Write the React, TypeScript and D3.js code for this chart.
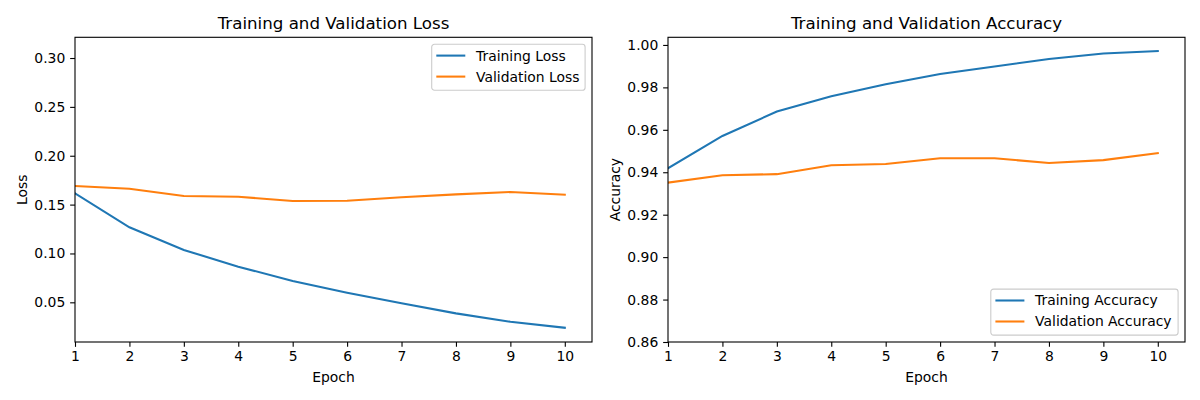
import React, { useEffect, useRef } from "react";
import * as d3 from "d3";

// values
const epochs = [1, 2, 3, 4, 5, 6, 7, 8, 9, 10];
const trainLoss = [0.1616, 0.1268, 0.1036, 0.0865, 0.0719, 0.0599, 0.049, 0.0387, 0.0301, 0.024];
const valLoss = [0.169, 0.1663, 0.1588, 0.1581, 0.1537, 0.154, 0.1575, 0.1605, 0.1629, 0.1601];
const trainAcc = [0.9419, 0.9571, 0.9686, 0.9758, 0.9815, 0.9863, 0.9898, 0.9934, 0.996, 0.9971];
const valAcc = [0.9351, 0.9386, 0.9391, 0.9433, 0.9439, 0.9466, 0.9466, 0.9444, 0.9457, 0.949];
const lossTicks = [0.05, 0.1, 0.15, 0.2, 0.25, 0.3];
const accTicks = [0.86, 0.88, 0.9, 0.92, 0.94, 0.96, 0.98, 1.0];

const BLUE = "#1f77b4";
const ORANGE = "#ff7f0e";
const FONT = "DejaVu Sans, sans-serif";

interface PanelCfg {
  left: number;
  title: string;
  ylabel: string;
  yDomain: [number, number];
  yTicks: number[];
  train: number[];
  val: number[];
  trainName: string;
  valName: string;
  legend: "topright" | "bottomright";
}

const panels: PanelCfg[] = [
  {
    left: 75,
    title: "Training and Validation Loss",
    ylabel: "Loss",
    yDomain: [0.0094, 0.3212],
    yTicks: lossTicks,
    train: trainLoss,
    val: valLoss,
    trainName: "Training Loss",
    valName: "Validation Loss",
    legend: "topright",
  },
  {
    left: 668,
    title: "Training and Validation Accuracy",
    ylabel: "Accuracy",
    yDomain: [0.86, 1.0036],
    yTicks: accTicks,
    train: trainAcc,
    val: valAcc,
    trainName: "Training Accuracy",
    valName: "Validation Accuracy",
    legend: "bottomright",
  },
];

const App: React.FC = () => {
  const svgRef = useRef<SVGSVGElement | null>(null);

  useEffect(() => {
    const width = 1200;
    const height = 400;
    const top = 37.3;
    const bottom = 342;
    const plotW = 517;

    const svg = d3.select(svgRef.current);
    svg.selectAll("*").remove();
    svg.attr("viewBox", [0, 0, width, height]);

    panels.forEach((p) => {
      const g = svg.append("g");
      const x = d3.scaleLinear().domain([1, 10.5]).range([p.left, p.left + plotW]);
      const y = d3.scaleLinear().domain(p.yDomain).range([bottom, top]);

      const line = d3
        .line<number>()
        .x((_, i) => x(epochs[i]))
        .y((d) => y(d));

      const clipId = "clip" + p.left;
      g.append("clipPath")
        .attr("id", clipId)
        .append("rect")
        .attr("x", p.left)
        .attr("y", top)
        .attr("width", plotW)
        .attr("height", bottom - top);

      [
        { d: p.train, c: BLUE },
        { d: p.val, c: ORANGE },
      ].forEach((s) => {
        g.append("path")
          .datum(s.d)
          .attr("d", line)
          .attr("fill", "none")
          .attr("stroke", s.c)
          .attr("stroke-width", 2.08)
          .attr("stroke-linecap", "square")
          .attr("clip-path", `url(#${clipId})`);
      });

      // x axis
      const gx = g.append("g").attr("transform", `translate(0,${bottom})`);
      gx.call(
        d3
          .axisBottom(x)
          .tickValues(epochs)
          .tickFormat(d3.format("d"))
          .tickSize(4.86)
          .tickPadding(4.3)
          .tickSizeOuter(0)
      );
      gx.select(".domain").remove();
      gx.selectAll("line").attr("stroke", "#000").attr("stroke-width", 1.1);
      gx.selectAll("text")
        .attr("font-family", FONT)
        .attr("font-size", 13.9)
        .attr("fill", "#000");

      // y axis
      const gy = g.append("g").attr("transform", `translate(${p.left},0)`);
      gy.call(
        d3
          .axisLeft(y)
          .tickValues(p.yTicks)
          .tickFormat(d3.format(".2f"))
          .tickSize(4.86)
          .tickPadding(4.86)
          .tickSizeOuter(0)
      );
      gy.select(".domain").remove();
      gy.selectAll("line").attr("stroke", "#000").attr("stroke-width", 1.1);
      gy.selectAll("text")
        .attr("font-family", FONT)
        .attr("font-size", 13.9)
        .attr("fill", "#000");

      // frame
      g.append("rect")
        .attr("x", p.left)
        .attr("y", top)
        .attr("width", plotW)
        .attr("height", bottom - top)
        .attr("fill", "none")
        .attr("stroke", "#000")
        .attr("stroke-width", 1.1);

      // title and labels
      g.append("text")
        .attr("x", p.left + plotW / 2)
        .attr("y", 29)
        .attr("text-anchor", "middle")
        .attr("font-family", FONT)
        .attr("font-size", 16.67)
        .text(p.title);

      g.append("text")
        .attr("x", p.left + plotW / 2)
        .attr("y", 382)
        .attr("text-anchor", "middle")
        .attr("font-family", FONT)
        .attr("font-size", 13.9)
        .text("Epoch");

      const yl = p.ylabel === "Loss" ? 27 : 620;
      g.append("text")
        .attr("transform", `translate(${yl},${(top + bottom) / 2}) rotate(-90)`)
        .attr("text-anchor", "middle")
        .attr("font-family", FONT)
        .attr("font-size", 13.9)
        .text(p.ylabel);

      // legend
      const legW = p.legend === "topright" ? 153.4 : 187.3;
      const legH = 46;
      const lx = p.left + plotW - 6.9 - legW;
      const ly = p.legend === "topright" ? top + 6.9 : bottom - 6.9 - legH;
      const lg = g.append("g").attr("transform", `translate(${lx},${ly})`);
      lg.append("rect")
        .attr("width", legW)
        .attr("height", legH)
        .attr("rx", 2.8)
        .attr("fill", "white")
        .attr("fill-opacity", 0.8)
        .attr("stroke", "#cccccc")
        .attr("stroke-width", 1.1);
      [
        { n: p.trainName, c: BLUE },
        { n: p.valName, c: ORANGE },
      ].forEach((s, i) => {
        const cy = 11.4 + i * 21;
        lg.append("line")
          .attr("x1", 4.6)
          .attr("x2", 33.6)
          .attr("y1", cy)
          .attr("y2", cy)
          .attr("stroke", s.c)
          .attr("stroke-width", 2.08);
        lg.append("text")
          .attr("x", 44.3)
          .attr("y", cy + 5)
          .attr("font-family", FONT)
          .attr("font-size", 13.9)
          .text(s.n);
      });
    });
  }, []);

  return (
    <svg
      ref={svgRef}
      width={1200}
      height={400}
      style={{ position: "absolute", left: 0, top: 0, background: "white" }}
    ></svg>
  );
};

export default App;
